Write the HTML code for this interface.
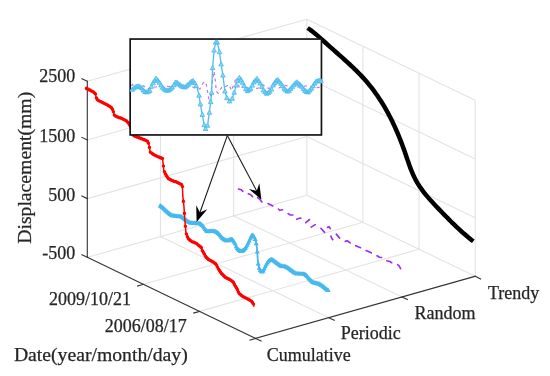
<!DOCTYPE html>
<html><head><meta charset="utf-8"><title>plot</title>
<style>html,body{margin:0;padding:0;background:#fff;width:550px;height:376px;overflow:hidden}svg{display:block}</style>
</head><body>
<svg width="550" height="376" viewBox="0 0 550 376">
<style>
.g{stroke:#e3e3e3;stroke-width:1.1;fill:none}
.a{stroke:#333;stroke-width:1.1;fill:none;stroke-linecap:square}
.bk{stroke:#000;stroke-width:4.5;fill:none;stroke-linejoin:round}
.rd{stroke:#ff0000;stroke-width:1.5;fill:none;stroke-linejoin:round}
.rdm{fill:#ff0000}
.cy{stroke:#45b8ee;stroke-width:1.8;fill:none;stroke-linejoin:round}
.cym{fill:#45b8ee}
.pu{stroke:#9d2cf2;stroke-width:1.65;fill:none;stroke-linecap:round;stroke-linejoin:round}
.ipu{stroke:#c070f0;stroke-width:1.2;fill:none;stroke-dasharray:3 3.5}
.icy{stroke:#4dbeee;stroke-width:1.3;fill:none;stroke-linejoin:round}
.icym{fill:#8fd6f5;stroke:#4dbeee;stroke-width:0.9;stroke-linejoin:miter}
.ar{stroke:#1a1a1a;stroke-width:1.1}
text{font-family:"Liberation Serif","Times New Roman",serif;font-size:18px;fill:#262626;stroke:#262626;stroke-width:0.25}
.lb{font-size:19.7px}
</style>
<rect width="550" height="376" fill="#fff"/>
<line class="g" x1="87.3" y1="257.3" x2="306.8" y2="195.2"/>
<line class="g" x1="306.8" y1="195.2" x2="306.8" y2="19.2"/>
<line class="g" x1="306.8" y1="195.2" x2="475.2" y2="276.3"/>
<line class="g" x1="160.47" y1="236.6" x2="160.47" y2="60.6"/>
<line class="g" x1="87.3" y1="198.63" x2="306.8" y2="136.53"/>
<line class="g" x1="362.93" y1="222.23" x2="362.93" y2="46.23"/>
<line class="g" x1="306.8" y1="136.53" x2="475.2" y2="217.63"/>
<line class="g" x1="160.47" y1="236.6" x2="328.87" y2="317.7"/>
<line class="g" x1="143.43" y1="284.33" x2="362.93" y2="222.23"/>
<line class="g" x1="233.63" y1="215.9" x2="233.63" y2="39.9"/>
<line class="g" x1="87.3" y1="139.97" x2="306.8" y2="77.87"/>
<line class="g" x1="419.07" y1="249.27" x2="419.07" y2="73.27"/>
<line class="g" x1="306.8" y1="77.87" x2="475.2" y2="158.97"/>
<line class="g" x1="233.63" y1="215.9" x2="402.03" y2="297"/>
<line class="g" x1="199.57" y1="311.37" x2="419.07" y2="249.27"/>
<line class="g" x1="87.3" y1="81.3" x2="306.8" y2="19.2"/>
<line class="g" x1="475.2" y1="276.3" x2="475.2" y2="100.3"/>
<line class="g" x1="306.8" y1="19.2" x2="475.2" y2="100.3"/>
<line class="a" x1="87.3" y1="257.3" x2="87.3" y2="81.3"/>
<line class="a" x1="87.3" y1="257.3" x2="255.7" y2="338.4"/>
<line class="a" x1="255.7" y1="338.4" x2="475.2" y2="276.3"/>
<line class="a" x1="87.3" y1="257.3" x2="81.89" y2="254.7"/>
<line class="a" x1="87.3" y1="198.63" x2="81.89" y2="196.03"/>
<line class="a" x1="87.3" y1="139.97" x2="81.89" y2="137.36"/>
<line class="a" x1="87.3" y1="81.3" x2="81.89" y2="78.7"/>
<line class="a" x1="143.43" y1="284.33" x2="137.66" y2="285.97"/>
<line class="a" x1="199.57" y1="311.37" x2="193.79" y2="313"/>
<line class="a" x1="255.7" y1="338.4" x2="249.93" y2="340.03"/>
<line class="a" x1="255.7" y1="338.4" x2="261.11" y2="341"/>
<line class="a" x1="328.87" y1="317.7" x2="334.27" y2="320.3"/>
<line class="a" x1="402.03" y1="297" x2="407.44" y2="299.6"/>
<line class="a" x1="475.2" y1="276.3" x2="480.61" y2="278.9"/>
<polyline class="pu" points="238.5,189 241.1,189.7 242.8,191.3"/>
<polyline class="pu" points="248.3,193.8 250.8,194.8 252.6,196.6"/>
<polyline class="pu" points="257.6,197.6 259.5,199 261.9,202"/>
<polyline class="pu" points="268,203.6 272.8,206"/>
<polyline class="pu" points="278.4,209 279.9,210.3 282.5,209.8"/>
<polyline class="pu" points="288.1,213.6 290.3,215 292.9,215"/>
<polyline class="pu" points="296.7,219.2 298.5,218.5 300.8,218.1"/>
<polyline class="pu" points="305.8,222.6 309.5,219.5"/>
<polyline class="pu" points="311.2,227.1 315.2,224.6"/>
<polyline class="pu" points="320.9,228.3 324.6,232.4"/>
<polyline class="pu" points="327.5,227.5 329.1,226.6 330.3,228.6"/>
<polyline class="pu" points="330.9,236 331.6,238 332.8,239.7"/>
<polyline class="pu" points="336.3,234.1 339.6,238.1"/>
<polyline class="pu" points="345.3,241.4 347.2,240.8 350.3,242.9"/>
<polyline class="pu" points="355.7,245.7 360.6,247.7"/>
<polyline class="pu" points="366.1,250.5 371.3,252.8"/>
<polyline class="pu" points="377,255.8 379.4,257.3 381.6,257.5"/>
<polyline class="pu" points="386.8,260.8 389.8,261.5 391.7,262.7"/>
<polyline class="pu" points="397.6,264.7 399.1,265.8 400.6,268.7"/>
<polyline class="cy" points="160.2,205.6 160.5,205.83 160.9,206.13 161.38,206.49 161.92,206.91 162.5,207.39 163.1,207.9 163.73,208.49 164.43,209.17 165.16,209.89 165.91,210.63 166.66,211.35 167.4,212 168.11,212.61 168.82,213.21 169.53,213.79 170.25,214.32 171,214.8 171.8,215.2 172.67,215.51 173.6,215.74 174.56,215.91 175.51,216.05 176.44,216.17 177.3,216.3 178.08,216.4 178.82,216.44 179.52,216.47 180.2,216.53 180.89,216.66 181.6,216.9 182.33,217.29 183.06,217.8 183.8,218.38 184.54,218.98 185.27,219.57 186,220.1 186.71,220.59 187.4,221.09 188.08,221.56 188.78,222 189.52,222.39 190.3,222.7 191.16,222.92 192.09,223.05 193.04,223.13 194,223.18 194.93,223.23 195.8,223.3 196.61,223.36 197.39,223.39 198.14,223.41 198.86,223.47 199.55,223.58 200.2,223.8 200.8,224.12 201.35,224.5 201.87,224.96 202.37,225.46 202.87,226.01 203.4,226.6 203.95,227.29 204.5,228.1 205.06,228.96 205.61,229.79 206.16,230.49 206.7,231 207.2,231.28 207.66,231.37 208.11,231.36 208.59,231.28 209.14,231.21 209.8,231.2 210.61,231.21 211.54,231.2 212.54,231.18 213.56,231.2 214.53,231.3 215.4,231.5 216.17,231.82 216.89,232.24 217.56,232.73 218.19,233.26 218.8,233.83 219.4,234.4 219.95,235.01 220.44,235.68 220.9,236.38 221.37,237.07 221.9,237.73 222.5,238.3 223.21,238.83 224,239.36 224.84,239.84 225.7,240.25 226.53,240.55 227.3,240.7 228.02,240.61 228.72,240.29 229.4,239.85 230.06,239.43 230.69,239.14 231.3,239.1 231.89,239.33 232.46,239.72 233,240.25 233.52,240.88 234.02,241.57 234.5,242.3 234.93,243.12 235.3,244.08 235.65,245.1 236.01,246.12 236.42,247.08 236.9,247.9 237.47,248.64 238.11,249.35 238.8,250 239.51,250.54 240.21,250.92 240.9,251.1 241.58,251.06 242.26,250.83 242.95,250.45 243.63,249.94 244.28,249.35 244.9,248.7 245.48,247.97 246.03,247.13 246.55,246.19 247.06,245.2 247.58,244.16 248.1,243.1 248.66,241.93 249.25,240.62 249.84,239.27 250.4,237.98 250.89,236.85 251.3,236 251.58,235.43 251.75,235.05 251.86,234.84 251.96,234.77 252.09,234.8 252.3,234.9 252.61,235.1 252.98,235.44 253.38,235.88 253.79,236.39 254.17,236.94 254.5,237.5 254.77,238.07 255.01,238.67 255.22,239.31 255.41,240.01 255.61,240.77 255.8,241.6 255.99,242.43 256.18,243.24 256.36,244.12 256.53,245.14 256.71,246.41 256.9,248 257.09,250.1 257.28,252.69 257.47,255.51 257.67,258.33 257.88,260.91 258.1,263 258.34,264.59 258.6,265.86 258.86,266.89 259.14,267.75 259.42,268.49 259.7,269.2 259.99,269.84 260.29,270.37 260.59,270.78 260.9,271.1 261.2,271.34 261.5,271.5 261.77,271.63 262.02,271.71 262.26,271.72 262.53,271.6 262.83,271.3 263.2,270.8 263.66,269.98 264.19,268.85 264.76,267.56 265.34,266.23 265.9,265 266.4,264 266.84,263.24 267.25,262.6 267.63,262.06 268.01,261.59 268.39,261.18 268.8,260.8 269.23,260.44 269.69,260.13 270.14,259.87 270.6,259.67 271.06,259.54 271.5,259.5 271.93,259.56 272.35,259.72 272.76,259.95 273.17,260.23 273.59,260.52 274,260.8 274.39,261.07 274.76,261.34 275.12,261.63 275.52,261.95 275.97,262.3 276.5,262.7 277.13,263.18 277.83,263.76 278.59,264.36 279.38,264.96 280.19,265.48 281,265.9 281.82,266.16 282.68,266.3 283.56,266.37 284.43,266.44 285.28,266.56 286.1,266.8 286.87,267.16 287.59,267.59 288.3,268.08 289.01,268.61 289.73,269.15 290.5,269.7 291.33,270.3 292.21,270.96 293.11,271.65 294,272.3 294.84,272.87 295.6,273.3 296.27,273.57 296.87,273.71 297.43,273.77 297.96,273.78 298.48,273.78 299,273.8 299.51,273.83 300,273.83 300.48,273.82 300.96,273.82 301.46,273.84 302,273.9 302.59,273.97 303.23,274.03 303.89,274.12 304.55,274.26 305.19,274.47 305.8,274.8 306.35,275.26 306.86,275.85 307.36,276.51 307.86,277.22 308.4,277.93 309,278.6 309.67,279.28 310.39,279.99 311.14,280.71 311.91,281.4 312.71,282.01 313.5,282.5 314.31,282.84 315.15,283.05 316,283.18 316.85,283.3 317.69,283.45 318.5,283.7 319.29,284.05 320.06,284.44 320.82,284.87 321.57,285.34 322.3,285.82 323,286.3 323.7,286.82 324.39,287.4 325.06,288 325.7,288.57 326.28,289.09 326.8,289.5 327.25,289.81 327.64,290.03 327.99,290.2 328.28,290.32 328.52,290.42 328.7,290.5"/>
<path class="cym" d="M160.2 202.9l2.5 4.5h-5zM161.2 203.66l2.5 4.5h-5zM162.2 204.44l2.5 4.5h-5zM163.2 205.29l2.5 4.5h-5zM164.2 206.25l2.5 4.5h-5zM165.2 207.24l2.5 4.5h-5zM166.2 208.21l2.5 4.5h-5zM167.2 209.12l2.5 4.5h-5zM168.2 209.98l2.5 4.5h-5zM169.2 210.82l2.5 4.5h-5zM170.2 211.59l2.5 4.5h-5zM171.2 212.2l2.5 4.5h-5zM172.2 212.64l2.5 4.5h-5zM173.2 212.94l2.5 4.5h-5zM174.2 213.15l2.5 4.5h-5zM175.2 213.3l2.5 4.5h-5zM176.2 213.44l2.5 4.5h-5zM177.2 213.58l2.5 4.5h-5zM178.2 213.71l2.5 4.5h-5zM179.2 213.76l2.5 4.5h-5zM180.2 213.83l2.5 4.5h-5zM181.2 214.06l2.5 4.5h-5zM182.2 214.52l2.5 4.5h-5zM183.2 215.2l2.5 4.5h-5zM184.2 216l2.5 4.5h-5zM185.2 216.81l2.5 4.5h-5zM186.2 217.54l2.5 4.5h-5zM187.2 218.24l2.5 4.5h-5zM188.2 218.94l2.5 4.5h-5zM189.2 219.52l2.5 4.5h-5zM190.2 219.96l2.5 4.5h-5zM191.2 220.22l2.5 4.5h-5zM192.2 220.36l2.5 4.5h-5zM193.2 220.44l2.5 4.5h-5zM194.2 220.49l2.5 4.5h-5zM195.2 220.55l2.5 4.5h-5zM196.2 220.63l2.5 4.5h-5zM197.2 220.68l2.5 4.5h-5zM198.2 220.72l2.5 4.5h-5zM199.2 220.82l2.5 4.5h-5zM200.2 221.1l2.5 4.5h-5zM201.2 221.7l2.5 4.5h-5zM202.2 222.59l2.5 4.5h-5zM203.2 223.68l2.5 4.5h-5zM204.2 224.96l2.5 4.5h-5zM205.2 226.48l2.5 4.5h-5zM206.2 227.83l2.5 4.5h-5zM207.2 228.58l2.5 4.5h-5zM208.2 228.64l2.5 4.5h-5zM209.2 228.51l2.5 4.5h-5zM210.2 228.51l2.5 4.5h-5zM211.2 228.5l2.5 4.5h-5zM212.2 228.49l2.5 4.5h-5zM213.2 228.5l2.5 4.5h-5zM214.2 228.57l2.5 4.5h-5zM215.2 228.75l2.5 4.5h-5zM216.2 229.14l2.5 4.5h-5zM217.2 229.77l2.5 4.5h-5zM218.2 230.57l2.5 4.5h-5zM219.2 231.51l2.5 4.5h-5zM220.2 232.66l2.5 4.5h-5zM221.2 234.12l2.5 4.5h-5zM222.2 235.31l2.5 4.5h-5zM223.2 236.12l2.5 4.5h-5zM224.2 236.77l2.5 4.5h-5zM225.2 237.31l2.5 4.5h-5zM226.2 237.73l2.5 4.5h-5zM227.2 237.98l2.5 4.5h-5zM228.2 237.83l2.5 4.5h-5zM229.2 237.28l2.5 4.5h-5zM230.2 236.66l2.5 4.5h-5zM231.2 236.41l2.5 4.5h-5zM232.2 236.84l2.5 4.5h-5zM233.2 237.79l2.5 4.5h-5zM234.2 239.14l2.5 4.5h-5zM235.2 241.12l2.5 4.5h-5zM236.2 243.87l2.5 4.5h-5zM237.2 245.59l2.5 4.5h-5zM238.2 246.73l2.5 4.5h-5zM239.2 247.6l2.5 4.5h-5zM240.2 248.21l2.5 4.5h-5zM241.2 248.38l2.5 4.5h-5zM242.2 248.15l2.5 4.5h-5zM243.2 247.56l2.5 4.5h-5zM244.2 246.72l2.5 4.5h-5zM245.2 245.62l2.5 4.5h-5zM246.2 244.12l2.5 4.5h-5zM247.2 242.22l2.5 4.5h-5zM248.2 240.19l2.5 4.5h-5zM249.2 238.03l2.5 4.5h-5zM250.2 235.73l2.5 4.5h-5zM251.2 233.51l2.5 4.5h-5zM252.2 232.15l2.5 4.5h-5zM253.2 232.98l2.5 4.5h-5zM254.2 234.29l2.5 4.5h-5zM255.2 236.56l2.5 4.5h-5zM256.2 240.65l2.5 4.5h-5zM257.2 248.92l2.5 4.5h-5zM258.2 260.96l2.5 4.5h-5zM259.2 265.22l2.5 4.5h-5zM260.2 267.51l2.5 4.5h-5zM261.2 268.63l2.5 4.5h-5zM262.2 269.02l2.5 4.5h-5zM263.2 268.1l2.5 4.5h-5zM264.2 266.12l2.5 4.5h-5zM265.2 263.84l2.5 4.5h-5zM266.2 261.69l2.5 4.5h-5zM267.2 259.97l2.5 4.5h-5zM268.2 258.69l2.5 4.5h-5zM269.2 257.77l2.5 4.5h-5zM270.2 257.14l2.5 4.5h-5zM271.2 256.83l2.5 4.5h-5zM272.2 256.96l2.5 4.5h-5zM273.2 257.54l2.5 4.5h-5zM274.2 258.24l2.5 4.5h-5zM275.2 258.99l2.5 4.5h-5zM276.2 259.78l2.5 4.5h-5zM277.2 260.54l2.5 4.5h-5zM278.2 261.35l2.5 4.5h-5zM279.2 262.12l2.5 4.5h-5zM280.2 262.79l2.5 4.5h-5zM281.2 263.26l2.5 4.5h-5zM282.2 263.52l2.5 4.5h-5zM283.2 263.64l2.5 4.5h-5zM284.2 263.72l2.5 4.5h-5zM285.2 263.85l2.5 4.5h-5zM286.2 264.15l2.5 4.5h-5zM287.2 264.66l2.5 4.5h-5zM288.2 265.31l2.5 4.5h-5zM289.2 266.05l2.5 4.5h-5zM290.2 266.79l2.5 4.5h-5zM291.2 267.5l2.5 4.5h-5zM292.2 268.25l2.5 4.5h-5zM293.2 269.01l2.5 4.5h-5zM294.2 269.74l2.5 4.5h-5zM295.2 270.37l2.5 4.5h-5zM296.2 270.84l2.5 4.5h-5zM297.2 271.04l2.5 4.5h-5zM298.2 271.08l2.5 4.5h-5zM299.2 271.11l2.5 4.5h-5zM300.2 271.13l2.5 4.5h-5zM301.2 271.13l2.5 4.5h-5zM302.2 271.22l2.5 4.5h-5zM303.2 271.33l2.5 4.5h-5zM304.2 271.48l2.5 4.5h-5zM305.2 271.78l2.5 4.5h-5zM306.2 272.44l2.5 4.5h-5zM307.2 273.6l2.5 4.5h-5zM308.2 274.97l2.5 4.5h-5zM309.2 276.1l2.5 4.5h-5zM310.2 277.11l2.5 4.5h-5zM311.2 278.07l2.5 4.5h-5zM312.2 278.92l2.5 4.5h-5zM313.2 279.61l2.5 4.5h-5zM314.2 280.09l2.5 4.5h-5zM315.2 280.36l2.5 4.5h-5zM316.2 280.51l2.5 4.5h-5zM317.2 280.66l2.5 4.5h-5zM318.2 280.91l2.5 4.5h-5zM319.2 281.31l2.5 4.5h-5zM320.2 281.82l2.5 4.5h-5zM321.2 282.41l2.5 4.5h-5zM322.2 283.05l2.5 4.5h-5zM323.2 283.75l2.5 4.5h-5zM324.2 284.55l2.5 4.5h-5zM325.2 285.42l2.5 4.5h-5zM326.2 286.31l2.5 4.5h-5zM327.2 287.07l2.5 4.5h-5zM328.2 287.59l2.5 4.5h-5z"/>
<polyline class="rd" points="86.4,88.3 89.6,89.9 93.6,92 95.5,94 96,97.2 97.5,99.9 102.3,102.3 107.9,105.2 111.9,107.9 113.5,111.9 114.3,115.1 116.7,116.7 121.5,118.3 126.3,120.7 128.6,123.1 130.5,126.5 131.8,130 132.5,134.5 134.6,136 141,138.4 147.3,141 148.9,144.1 149.4,147.3 150.2,152.1 153.7,154.5 158.5,156.9 162.5,158.5 163.3,164.9 163.8,170.5 165.7,174.4 168.1,178.4 172.8,180.8 177.6,182.4 181.5,184.5 182.4,186.5 182.8,195.7 184,206.9 184.8,219.7 185.3,225 185.9,232.4 186.9,235.6 188.5,238.8 191.7,241.5 196,243.1 199.1,245.7 201.3,247.3 202.3,250.5 203.9,253.2 205.5,256.4 208.7,259.6 211.9,261.2 215.8,263.8 218.2,268.6 221.4,273.3 225.4,277.3 230.2,279.7 233.3,282.1 234.9,285.3 237.3,289.3 238.9,293.3 242.9,296.5 247.7,298.9 251.7,301.3 253.3,303.6 254.1,306.8"/>
<path class="rdm" d="M86.4 86.6a1.7 1.7 0 1 0 0.01 0zM87.4 87.1a1.7 1.7 0 1 0 0.01 0zM88.4 87.6a1.7 1.7 0 1 0 0.01 0zM89.4 88.1a1.7 1.7 0 1 0 0.01 0zM90.4 88.62a1.7 1.7 0 1 0 0.01 0zM91.4 89.15a1.7 1.7 0 1 0 0.01 0zM92.4 89.67a1.7 1.7 0 1 0 0.01 0zM93.4 90.2a1.7 1.7 0 1 0 0.01 0zM94.4 91.14a1.7 1.7 0 1 0 0.01 0zM95.4 92.19a1.7 1.7 0 1 0 0.01 0zM96.4 96.22a1.7 1.7 0 1 0 0.01 0zM97.4 98.02a1.7 1.7 0 1 0 0.01 0zM98.4 98.65a1.7 1.7 0 1 0 0.01 0zM99.4 99.15a1.7 1.7 0 1 0 0.01 0zM100.4 99.65a1.7 1.7 0 1 0 0.01 0zM101.4 100.15a1.7 1.7 0 1 0 0.01 0zM102.4 100.65a1.7 1.7 0 1 0 0.01 0zM103.4 101.17a1.7 1.7 0 1 0 0.01 0zM104.4 101.69a1.7 1.7 0 1 0 0.01 0zM105.4 102.21a1.7 1.7 0 1 0 0.01 0zM106.4 102.72a1.7 1.7 0 1 0 0.01 0zM107.4 103.24a1.7 1.7 0 1 0 0.01 0zM108.4 103.84a1.7 1.7 0 1 0 0.01 0zM109.4 104.51a1.7 1.7 0 1 0 0.01 0zM110.4 105.19a1.7 1.7 0 1 0 0.01 0zM111.4 105.86a1.7 1.7 0 1 0 0.01 0zM112.4 107.45a1.7 1.7 0 1 0 0.01 0zM113.4 109.95a1.7 1.7 0 1 0 0.01 0zM114.4 113.47a1.7 1.7 0 1 0 0.01 0zM115.4 114.13a1.7 1.7 0 1 0 0.01 0zM116.4 114.8a1.7 1.7 0 1 0 0.01 0zM117.4 115.23a1.7 1.7 0 1 0 0.01 0zM118.4 115.57a1.7 1.7 0 1 0 0.01 0zM119.4 115.9a1.7 1.7 0 1 0 0.01 0zM120.4 116.23a1.7 1.7 0 1 0 0.01 0zM121.4 116.57a1.7 1.7 0 1 0 0.01 0zM122.4 117.05a1.7 1.7 0 1 0 0.01 0zM123.4 117.55a1.7 1.7 0 1 0 0.01 0zM124.4 118.05a1.7 1.7 0 1 0 0.01 0zM125.4 118.55a1.7 1.7 0 1 0 0.01 0zM126.4 119.1a1.7 1.7 0 1 0 0.01 0zM127.4 120.15a1.7 1.7 0 1 0 0.01 0zM128.4 121.19a1.7 1.7 0 1 0 0.01 0zM129.4 122.83a1.7 1.7 0 1 0 0.01 0zM130.4 124.62a1.7 1.7 0 1 0 0.01 0zM131.4 127.22a1.7 1.7 0 1 0 0.01 0zM132.4 132.16a1.7 1.7 0 1 0 0.01 0zM133.4 133.44a1.7 1.7 0 1 0 0.01 0zM134.4 134.16a1.7 1.7 0 1 0 0.01 0zM135.4 134.6a1.7 1.7 0 1 0 0.01 0zM136.4 134.98a1.7 1.7 0 1 0 0.01 0zM137.4 135.35a1.7 1.7 0 1 0 0.01 0zM138.4 135.73a1.7 1.7 0 1 0 0.01 0zM139.4 136.1a1.7 1.7 0 1 0 0.01 0zM140.4 136.48a1.7 1.7 0 1 0 0.01 0zM141.4 136.87a1.7 1.7 0 1 0 0.01 0zM142.4 137.28a1.7 1.7 0 1 0 0.01 0zM143.4 137.69a1.7 1.7 0 1 0 0.01 0zM144.4 138.1a1.7 1.7 0 1 0 0.01 0zM145.4 138.52a1.7 1.7 0 1 0 0.01 0zM146.4 138.93a1.7 1.7 0 1 0 0.01 0zM147.4 139.49a1.7 1.7 0 1 0 0.01 0zM148.4 141.43a1.7 1.7 0 1 0 0.01 0zM149.4 145.6a1.7 1.7 0 1 0 0.01 0zM150.4 150.54a1.7 1.7 0 1 0 0.01 0zM151.4 151.22a1.7 1.7 0 1 0 0.01 0zM152.4 151.91a1.7 1.7 0 1 0 0.01 0zM153.4 152.59a1.7 1.7 0 1 0 0.01 0zM154.4 153.15a1.7 1.7 0 1 0 0.01 0zM155.4 153.65a1.7 1.7 0 1 0 0.01 0zM156.4 154.15a1.7 1.7 0 1 0 0.01 0zM157.4 154.65a1.7 1.7 0 1 0 0.01 0zM158.4 155.15a1.7 1.7 0 1 0 0.01 0zM159.4 155.56a1.7 1.7 0 1 0 0.01 0zM160.4 155.96a1.7 1.7 0 1 0 0.01 0zM161.4 156.36a1.7 1.7 0 1 0 0.01 0zM162.4 156.76a1.7 1.7 0 1 0 0.01 0zM163.4 164.32a1.7 1.7 0 1 0 0.01 0zM164.4 170.03a1.7 1.7 0 1 0 0.01 0zM165.4 172.08a1.7 1.7 0 1 0 0.01 0zM166.4 173.87a1.7 1.7 0 1 0 0.01 0zM167.4 175.53a1.7 1.7 0 1 0 0.01 0zM168.4 176.85a1.7 1.7 0 1 0 0.01 0zM169.4 177.36a1.7 1.7 0 1 0 0.01 0zM170.4 177.87a1.7 1.7 0 1 0 0.01 0zM171.4 178.39a1.7 1.7 0 1 0 0.01 0zM172.4 178.9a1.7 1.7 0 1 0 0.01 0zM173.4 179.3a1.7 1.7 0 1 0 0.01 0zM174.4 179.63a1.7 1.7 0 1 0 0.01 0zM175.4 179.97a1.7 1.7 0 1 0 0.01 0zM176.4 180.3a1.7 1.7 0 1 0 0.01 0zM177.4 180.63a1.7 1.7 0 1 0 0.01 0zM178.4 181.13a1.7 1.7 0 1 0 0.01 0zM179.4 181.67a1.7 1.7 0 1 0 0.01 0zM180.4 182.21a1.7 1.7 0 1 0 0.01 0zM181.4 182.75a1.7 1.7 0 1 0 0.01 0zM182.4 184.8a1.7 1.7 0 1 0 0.01 0zM183.4 199.6a1.7 1.7 0 1 0 0.01 0zM184.4 211.6a1.7 1.7 0 1 0 0.01 0zM185.4 224.53a1.7 1.7 0 1 0 0.01 0zM186.4 232.3a1.7 1.7 0 1 0 0.01 0zM187.4 234.9a1.7 1.7 0 1 0 0.01 0zM188.4 236.9a1.7 1.7 0 1 0 0.01 0zM189.4 237.86a1.7 1.7 0 1 0 0.01 0zM190.4 238.7a1.7 1.7 0 1 0 0.01 0zM191.4 239.55a1.7 1.7 0 1 0 0.01 0zM192.4 240.06a1.7 1.7 0 1 0 0.01 0zM193.4 240.43a1.7 1.7 0 1 0 0.01 0zM194.4 240.8a1.7 1.7 0 1 0 0.01 0zM195.4 241.18a1.7 1.7 0 1 0 0.01 0zM196.4 241.74a1.7 1.7 0 1 0 0.01 0zM197.4 242.57a1.7 1.7 0 1 0 0.01 0zM198.4 243.41a1.7 1.7 0 1 0 0.01 0zM199.4 244.22a1.7 1.7 0 1 0 0.01 0zM200.4 244.95a1.7 1.7 0 1 0 0.01 0zM201.4 245.92a1.7 1.7 0 1 0 0.01 0zM202.4 248.97a1.7 1.7 0 1 0 0.01 0zM203.4 250.66a1.7 1.7 0 1 0 0.01 0zM204.4 252.5a1.7 1.7 0 1 0 0.01 0zM205.4 254.5a1.7 1.7 0 1 0 0.01 0zM206.4 255.6a1.7 1.7 0 1 0 0.01 0zM207.4 256.6a1.7 1.7 0 1 0 0.01 0zM208.4 257.6a1.7 1.7 0 1 0 0.01 0zM209.4 258.25a1.7 1.7 0 1 0 0.01 0zM210.4 258.75a1.7 1.7 0 1 0 0.01 0zM211.4 259.25a1.7 1.7 0 1 0 0.01 0zM212.4 259.83a1.7 1.7 0 1 0 0.01 0zM213.4 260.5a1.7 1.7 0 1 0 0.01 0zM214.4 261.17a1.7 1.7 0 1 0 0.01 0zM215.4 261.83a1.7 1.7 0 1 0 0.01 0zM216.4 263.3a1.7 1.7 0 1 0 0.01 0zM217.4 265.3a1.7 1.7 0 1 0 0.01 0zM218.4 267.19a1.7 1.7 0 1 0 0.01 0zM219.4 268.66a1.7 1.7 0 1 0 0.01 0zM220.4 270.13a1.7 1.7 0 1 0 0.01 0zM221.4 271.6a1.7 1.7 0 1 0 0.01 0zM222.4 272.6a1.7 1.7 0 1 0 0.01 0zM223.4 273.6a1.7 1.7 0 1 0 0.01 0zM224.4 274.6a1.7 1.7 0 1 0 0.01 0zM225.4 275.6a1.7 1.7 0 1 0 0.01 0zM226.4 276.1a1.7 1.7 0 1 0 0.01 0zM227.4 276.6a1.7 1.7 0 1 0 0.01 0zM228.4 277.1a1.7 1.7 0 1 0 0.01 0zM229.4 277.6a1.7 1.7 0 1 0 0.01 0zM230.4 278.15a1.7 1.7 0 1 0 0.01 0zM231.4 278.93a1.7 1.7 0 1 0 0.01 0zM232.4 279.7a1.7 1.7 0 1 0 0.01 0zM233.4 280.6a1.7 1.7 0 1 0 0.01 0zM234.4 282.6a1.7 1.7 0 1 0 0.01 0zM235.4 284.43a1.7 1.7 0 1 0 0.01 0zM236.4 286.1a1.7 1.7 0 1 0 0.01 0zM237.4 287.85a1.7 1.7 0 1 0 0.01 0zM238.4 290.35a1.7 1.7 0 1 0 0.01 0zM239.4 292a1.7 1.7 0 1 0 0.01 0zM240.4 292.8a1.7 1.7 0 1 0 0.01 0zM241.4 293.6a1.7 1.7 0 1 0 0.01 0zM242.4 294.4a1.7 1.7 0 1 0 0.01 0zM243.4 295.05a1.7 1.7 0 1 0 0.01 0zM244.4 295.55a1.7 1.7 0 1 0 0.01 0zM245.4 296.05a1.7 1.7 0 1 0 0.01 0zM246.4 296.55a1.7 1.7 0 1 0 0.01 0zM247.4 297.05a1.7 1.7 0 1 0 0.01 0zM248.4 297.62a1.7 1.7 0 1 0 0.01 0zM249.4 298.22a1.7 1.7 0 1 0 0.01 0zM250.4 298.82a1.7 1.7 0 1 0 0.01 0zM251.4 299.42a1.7 1.7 0 1 0 0.01 0zM252.4 300.61a1.7 1.7 0 1 0 0.01 0zM253.4 302.3a1.7 1.7 0 1 0 0.01 0z"/>
<polyline class="bk" points="307.62,27.97 309.48,29.27 311.31,30.62 313.11,32.01 314.88,33.43 316.63,34.88 318.37,36.36 320.09,37.87 321.8,39.39 323.5,40.92 325.21,42.46 326.92,44.01 328.64,45.56 330.37,47.1 332.1,48.65 333.84,50.19 335.59,51.73 337.34,53.28 339.09,54.82 340.85,56.38 342.59,57.93 344.34,59.49 346.08,61.06 347.81,62.64 349.53,64.22 351.24,65.82 352.94,67.43 354.62,69.04 356.29,70.68 357.94,72.32 359.56,73.98 361.17,75.66 362.75,77.35 364.31,79.07 365.84,80.8 367.34,82.55 368.81,84.32 370.26,86.11 371.68,87.92 373.07,89.74 374.44,91.59 375.78,93.45 377.1,95.32 378.39,97.22 379.66,99.13 380.91,101.06 382.13,103 383.32,104.95 384.5,106.93 385.65,108.91 386.78,110.91 387.88,112.93 388.97,114.95 390.03,116.99 391.08,119.04 392.1,121.11 393.1,123.19 394.09,125.27 395.05,127.37 396,129.48 396.92,131.6 397.83,133.73 398.72,135.87 399.6,138.02 400.46,140.17 401.3,142.34 402.12,144.51 402.93,146.69 403.72,148.88 404.5,151.07 405.26,153.27 406.02,155.48 406.76,157.69 407.51,159.89 408.27,162.09 409.04,164.28 409.82,166.46 410.63,168.63 411.48,170.77 412.36,172.9 413.28,175 414.25,177.07 415.28,179.11 416.36,181.12 417.51,183.1 418.72,185.04 419.98,186.95 421.29,188.83 422.64,190.68 424.04,192.51 425.48,194.32 426.95,196.11 428.46,197.87 429.99,199.62 431.54,201.35 433.12,203.07 434.71,204.78 436.32,206.48 437.93,208.17 439.55,209.85 441.17,211.53 442.79,213.21 444.41,214.88 446.04,216.54 447.67,218.2 449.3,219.84 450.95,221.48 452.59,223.1 454.25,224.71 455.92,226.31 457.59,227.9 459.28,229.46 460.98,231.01 462.69,232.55 464.42,234.06 466.16,235.55 467.92,237.02 469.7,238.46 471.49,239.89 473.31,241.28"/>
<rect x="130.2" y="38.9" width="191.2" height="96" fill="#fff" stroke="none"/>
<rect x="130.15" y="39.05" width="191.3" height="95.9" fill="none" stroke="#141414" stroke-width="1.7"/>
<polyline class="ipu" points="131.5,86 132.3,84.4 136,87 142.9,85.4 147.7,88.9 152,87 156.2,87 160.4,86 168.4,86.5 177,86 177.7,86.8 189.9,86.3 193.6,87.3 195.7,88.9 200,88.9 202.7,83.6 204.3,81.5 206.4,84.7 207.4,90.5 208.5,96.9 209.6,102.8 211.5,88 213.8,71.4 214.4,73.5 215.4,81 216.3,91.3 218.1,93.2 220.2,89.5 221.8,87.3 225,87 229,84.6 231.6,90.6 236.3,77.3 238.3,84 239.6,88.6 245,85.3 248.3,88.6 252.9,84.6 256.9,88.6 263.6,85.3 268.9,88.6 274,85.3 279.3,87.9 284.6,85.3 295.9,87.3 306.6,85.9 317.9,87.6 320.5,87"/>
<polyline class="icy" points="132.2,89.6 134.4,87.6 138.1,86 141.3,87.6 144.5,91.8 147.1,92.3 149.8,90.7 152.5,83.8 156.2,78.5 158.9,81.7 162,87 165.2,90.2 168.4,90.7 172.7,87 175.9,81.7 178.2,83.6 181.4,86.3 185.1,87.3 188.8,84.1 192.6,80.4 195.2,83.6 197.3,88.4 199,95.5 200.4,104.2 202.3,114.8 204.2,125 205.6,128.8 207.5,125.6 209.4,112.6 210.7,102 211.6,92.6 212.6,67.9 214.1,50.4 215.7,42.4 217.3,42.4 219.5,52 221.1,64.2 222.9,75.4 224.9,91.3 226.9,98 229.6,101.3 232.2,98.6 234.2,92.6 237,82.6 239.6,77.3 243,83.3 246.9,91.2 250.3,89.3 253.6,82.6 256.9,78.6 260.2,83.3 263.6,90.6 266.9,93.9 270.9,90.6 273.3,84.6 277.3,79.3 281.3,84 284.6,89.3 288,91.9 291.9,87.3 296.6,81.9 301.3,85.9 304.6,90.6 307.9,92.6 311.9,87.9 315.9,81.5 319.5,80.6 322.6,81.9"/>
<path class="icym" d="M132.2 87.12l2.3 4.14h-4.6zM133.8 85.66l2.3 4.14h-4.6zM135.4 84.68l2.3 4.14h-4.6zM137 83.99l2.3 4.14h-4.6zM138.6 83.77l2.3 4.14h-4.6zM140.2 84.57l2.3 4.14h-4.6zM141.8 85.77l2.3 4.14h-4.6zM143.4 87.87l2.3 4.14h-4.6zM145 89.41l2.3 4.14h-4.6zM146.6 89.72l2.3 4.14h-4.6zM148.2 89.16l2.3 4.14h-4.6zM149.8 88.22l2.3 4.14h-4.6zM151.4 84.13l2.3 4.14h-4.6zM153 80.6l2.3 4.14h-4.6zM154.6 78.31l2.3 4.14h-4.6zM156.2 76.02l2.3 4.14h-4.6zM157.8 77.91l2.3 4.14h-4.6zM159.4 80.07l2.3 4.14h-4.6zM161 82.81l2.3 4.14h-4.6zM162.6 85.12l2.3 4.14h-4.6zM164.2 86.72l2.3 4.14h-4.6zM165.8 87.81l2.3 4.14h-4.6zM167.4 88.06l2.3 4.14h-4.6zM169 87.7l2.3 4.14h-4.6zM170.6 86.32l2.3 4.14h-4.6zM172.2 84.95l2.3 4.14h-4.6zM173.8 82.69l2.3 4.14h-4.6zM175.4 80.04l2.3 4.14h-4.6zM177 80.12l2.3 4.14h-4.6zM178.6 81.45l2.3 4.14h-4.6zM180.2 82.8l2.3 4.14h-4.6zM181.8 83.92l2.3 4.14h-4.6zM183.4 84.36l2.3 4.14h-4.6zM185 84.79l2.3 4.14h-4.6zM186.6 83.52l2.3 4.14h-4.6zM188.2 82.13l2.3 4.14h-4.6zM189.8 80.64l2.3 4.14h-4.6zM191.4 79.08l2.3 4.14h-4.6zM193 78.41l2.3 4.14h-4.6zM194.6 80.38l2.3 4.14h-4.6zM196.2 83.4l2.3 4.14h-4.6zM236.2 82.97l2.3 4.14h-4.6zM237.8 78.49l2.3 4.14h-4.6zM239.4 75.22l2.3 4.14h-4.6zM241 77.29l2.3 4.14h-4.6zM242.6 80.11l2.3 4.14h-4.6zM244.2 83.25l2.3 4.14h-4.6zM245.8 86.49l2.3 4.14h-4.6zM247.4 88.44l2.3 4.14h-4.6zM249 87.54l2.3 4.14h-4.6zM250.6 86.21l2.3 4.14h-4.6zM252.2 82.96l2.3 4.14h-4.6zM253.8 79.87l2.3 4.14h-4.6zM255.4 77.93l2.3 4.14h-4.6zM257 76.26l2.3 4.14h-4.6zM258.6 78.54l2.3 4.14h-4.6zM260.2 80.82l2.3 4.14h-4.6zM261.8 84.25l2.3 4.14h-4.6zM263.4 87.69l2.3 4.14h-4.6zM265 89.52l2.3 4.14h-4.6zM266.6 91.12l2.3 4.14h-4.6zM268.2 90.34l2.3 4.14h-4.6zM269.8 89.02l2.3 4.14h-4.6zM271.4 86.87l2.3 4.14h-4.6zM273 82.87l2.3 4.14h-4.6zM274.6 80.39l2.3 4.14h-4.6zM276.2 78.27l2.3 4.14h-4.6zM277.8 77.4l2.3 4.14h-4.6zM279.4 79.28l2.3 4.14h-4.6zM281 81.16l2.3 4.14h-4.6zM282.6 83.6l2.3 4.14h-4.6zM284.2 86.17l2.3 4.14h-4.6zM285.8 87.73l2.3 4.14h-4.6zM287.4 88.96l2.3 4.14h-4.6zM289 88.24l2.3 4.14h-4.6zM290.6 86.35l2.3 4.14h-4.6zM292.2 84.47l2.3 4.14h-4.6zM293.8 82.63l2.3 4.14h-4.6zM295.4 80.79l2.3 4.14h-4.6zM297 79.76l2.3 4.14h-4.6zM298.6 81.12l2.3 4.14h-4.6zM300.2 82.48l2.3 4.14h-4.6zM301.8 84.13l2.3 4.14h-4.6zM303.4 86.41l2.3 4.14h-4.6zM305 88.36l2.3 4.14h-4.6zM306.6 89.33l2.3 4.14h-4.6zM308.2 89.76l2.3 4.14h-4.6zM309.8 87.88l2.3 4.14h-4.6zM311.4 86l2.3 4.14h-4.6zM313 83.66l2.3 4.14h-4.6zM314.6 81.1l2.3 4.14h-4.6zM316.2 78.94l2.3 4.14h-4.6zM317.8 78.54l2.3 4.14h-4.6zM319.4 78.14l2.3 4.14h-4.6zM321 78.75l2.3 4.14h-4.6zM199 93.02l2.3 4.14h-4.6zM200.4 101.72l2.3 4.14h-4.6zM202.3 112.32l2.3 4.14h-4.6zM204.2 122.52l2.3 4.14h-4.6zM205.6 126.32l2.3 4.14h-4.6zM207.5 123.12l2.3 4.14h-4.6zM209.4 110.12l2.3 4.14h-4.6zM210.7 99.52l2.3 4.14h-4.6zM211.6 90.12l2.3 4.14h-4.6zM212.6 65.42l2.3 4.14h-4.6zM214.1 47.92l2.3 4.14h-4.6zM215.7 39.92l2.3 4.14h-4.6zM217.3 39.92l2.3 4.14h-4.6zM219.5 49.52l2.3 4.14h-4.6zM221.1 61.72l2.3 4.14h-4.6zM222.9 72.92l2.3 4.14h-4.6zM224.9 88.82l2.3 4.14h-4.6zM226.9 95.52l2.3 4.14h-4.6zM229.6 98.82l2.3 4.14h-4.6zM232.2 96.12l2.3 4.14h-4.6zM234.2 90.12l2.3 4.14h-4.6z"/>
<line class="ar" x1="227.3" y1="135.6" x2="199.95" y2="212.48"/><path fill="#000" d="M196.6 221.9L196.24 205.32L199.95 212.48L207.35 209.27z"/>
<line class="ar" x1="227.3" y1="135.6" x2="256.71" y2="190.97"/><path fill="#000" d="M261.4 199.8L248.92 188.88L256.71 190.97L259.34 183.34z"/>

<text x="75.3" y="82" text-anchor="end">2500</text>
<text x="75.3" y="141.5" text-anchor="end">1500</text>
<text x="75.3" y="200.5" text-anchor="end">500</text>
<text x="75.3" y="258.8" text-anchor="end">-500</text>
<text x="131.1" y="304.5" text-anchor="end">2009/10/21</text>
<text x="186.8" y="331.5" text-anchor="end">2006/08/17</text>
<text x="266.8" y="360.5">Cumulative</text>
<text x="340.8" y="339.3">Periodic</text>
<text x="414.5" y="319">Random</text>
<text x="487.9" y="298.8">Trendy</text>
<text class="lb" x="13.9" y="360.8">Date(year/month/day)</text>
<text class="lb" transform="translate(31.4 243.8) rotate(-90)">Displacement(mm)</text>

</svg>
</body></html>
